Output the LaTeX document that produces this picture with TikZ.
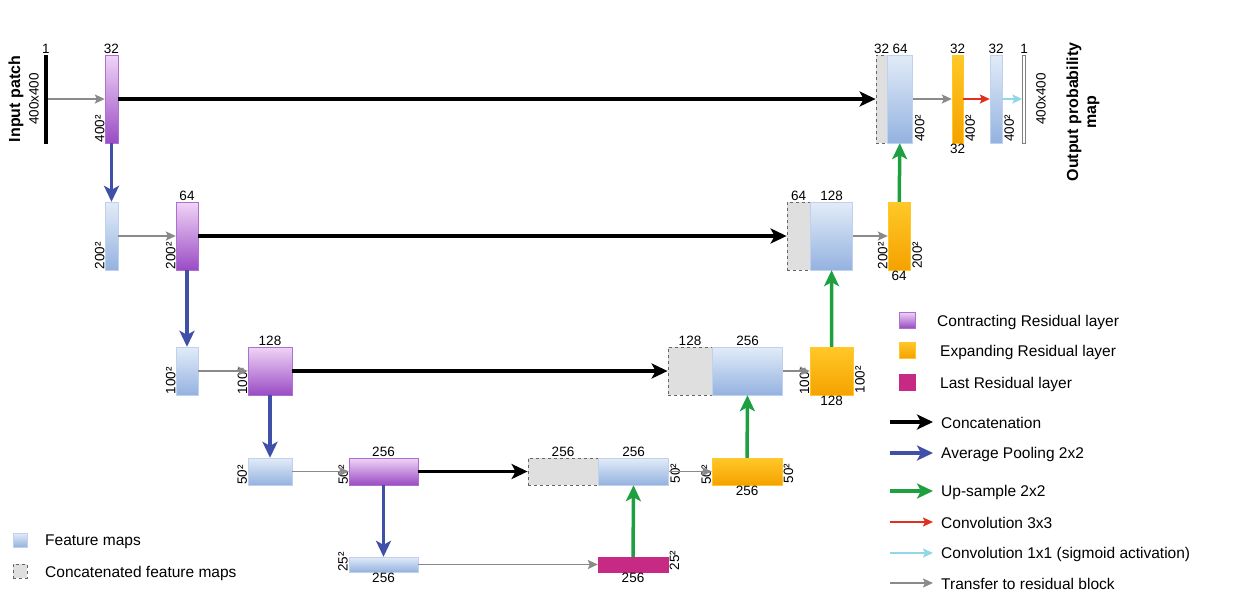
\documentclass[tikz,border=0pt]{standalone}
\usepackage{fontspec}
\setmainfont{Liberation Sans}
\usetikzlibrary{arrows.meta,positioning}
\definecolor{poolc}{HTML}{4050A8}
\definecolor{upc}{HTML}{1FA040}
\definecolor{convc}{HTML}{E03020}
\definecolor{sigc}{HTML}{90D8E8}
\definecolor{xferc}{HTML}{8A8A8A}
\definecolor{ftop}{HTML}{E2ECF8}
\definecolor{fbot}{HTML}{94B2E0}
\definecolor{ctop}{HTML}{F0D4F6}
\definecolor{cbot}{HTML}{9A4CC4}
\definecolor{etop}{HTML}{FFC828}
\definecolor{ebot}{HTML}{F5A200}
\tikzset{
  num/.style={font=\fontsize{13.5}{14}\selectfont, inner sep=1pt},
  box/.style={draw, inner sep=0pt, minimum width=#1},
  fmap/.style={box=#1, draw=fbot!60, top color=ftop, bottom color=fbot},
  cres/.style={box=#1, draw=cbot!80, top color=ctop, bottom color=cbot},
  eres/.style={box=#1, draw=etop, top color=etop, bottom color=ebot},
  lres/.style={box=#1, draw=magenta!80!black, fill=magenta!80!black},
  cmap/.style={box=#1, draw=gray!80!black, dashed, thick, fill=gray!25},
  h1/.style={minimum height=88pt}, h2/.style={minimum height=68pt},
  h3/.style={minimum height=48pt}, h4/.style={minimum height=27pt},
  h5/.style={minimum height=15pt},
  lt/.style={label={[num,rotate=90,anchor=south west,label distance=1pt]south west:#1}},
  rt/.style={label={[num,rotate=90,anchor=north west,label distance=1pt]south east:#1}},
  up/.style={label={[num]above:#1}},
  dn/.style={label={[num]below:#1}},
  concat/.style={-{Stealth[length=16pt,width=15pt,inset=4pt]}, line width=3.5pt},
  pool/.style={-{Stealth[length=16pt,width=15pt,inset=4pt]}, line width=3.5pt, poolc},
  upsm/.style={-{Stealth[length=16pt,width=15pt,inset=4pt]}, line width=3.5pt, upc},
  xfer/.style={-{Stealth[length=10pt,width=9pt,inset=2pt]}, line width=1.8pt, xferc},
  conv/.style={-{Stealth[length=10pt,width=9pt,inset=2pt]}, line width=1.8pt, convc},
  sig/.style={-{Stealth[length=10pt,width=9pt,inset=2pt]}, line width=1.8pt, sigc},
  legtxt/.style={anchor=west, font=\fontsize{15.5}{16}\selectfont, inner sep=0pt},
}
\begin{document}
\begin{tikzpicture}[x=1pt,y=-1pt]
  \useasboundingbox (0,0) rectangle (1246,606);
  % level 1
  \node[box=3pt, fill=black, h1, up=1] (inp) at (46,99) {};
  \node[rotate=90, font=\bfseries\fontsize{16}{17}\selectfont] (inptxt) at (16,99) {Input patch};
  \node[num, rotate=90] (inpsz) at (34,99) {400x400};
  \node[cres=13pt, h1, up=32, lt=400²] (c1) at (111.5,99) {};
  \node[cmap=11pt, h1, up=32] (k1) at (881.5,99) {};
  \node[fmap=25pt, h1, up=64, rt=400², right=0pt of k1] (f1) {};
  \node[eres=11pt, h1, up=32, dn=32, rt=400²] (e1) at (957.5,99) {};
  \node[fmap=12pt, h1, up=32, rt=400²] (g1) at (996,99) {};
  \node[box=3pt, draw=gray, fill=white, h1, up=1] (outp) at (1024,99) {};
  \node[num, rotate=90] (outsz) at (1041,99) {400x400};
  \node[rotate=90, align=center, font=\bfseries\fontsize{16}{18}\selectfont] (outtxt) at (1083,112) {Output probability\\map};
  % level 2
  \node[fmap=13pt, h2, lt=200²] (b2) at (111.5,236) {};
  \node[cres=22pt, h2, up=64, lt=200²] (c2) at (187,236) {};
  \node[cmap=23pt, h2, up=64] (k2) at (798.5,236) {};
  \node[fmap=42pt, h2, up=128, right=0pt of k2] (f2) {};
  \node[eres=22pt, h2, lt=200², rt=200², dn=64] (e2) at (899,236) {};
  % level 3
  \node[fmap=22pt, h3, lt=100²] (b3) at (187,371) {};
  \node[cres=44pt, h3, up=128, lt=100²] (c3) at (270,371) {};
  \node[cmap=44pt, h3, up=128] (k3) at (690,371) {};
  \node[fmap=70pt, h3, up=256, right=0pt of k3] (f3) {};
  \node[eres=43pt, h3, lt=100², rt=100², dn=128] (e3) at (831.5,371) {};
  % level 4
  \node[fmap=44pt, h4, lt=50²] (b4) at (270,471.5) {};
  \node[cres=69pt, h4, up=256, lt=50²] (c4) at (383.5,471.5) {};
  \node[cmap=70pt, h4, up=256] (k4) at (563,471.5) {};
  \node[fmap=70pt, h4, up=256, rt=50², right=0pt of k4] (f4) {};
  \node[eres=70pt, h4, lt=50², rt=50², dn=256] (e4) at (747,471.5) {};
  % level 5
  \node[fmap=69pt, h5, lt=25², dn=256] (b5) at (383.5,564.5) {};
  \node[lres=70pt, h5, rt=25², dn=256] (l5) at (633,564.5) {};
  % connectors
  \draw[xfer] (inp) -- (c1);
  \draw[concat] (c1) -- (k1);
  \draw[xfer] (f1) -- (e1);
  \draw[conv] (e1) -- (g1);
  \draw[sig] (g1) -- (outp);
  \draw[xfer] (b2) -- (c2);
  \draw[concat] (c2) -- (k2);
  \draw[xfer] (f2) -- (e2);
  \draw[xfer] (b3) -- (c3);
  \draw[concat] (c3) -- (k3);
  \draw[xfer] (f3) -- (e3);
  \draw[xfer] (b4) -- (c4);
  \draw[concat] (c4) -- (k4);
  \draw[xfer] (f4) -- (e4);
  \draw[xfer] (b5) -- (l5);
  \draw[pool] (c1) -- (b2);
  \draw[pool] (c2) -- (b3);
  \draw[pool] (c3) -- (b4);
  \draw[pool] (c4) -- (b5);
  \draw[upsm] (e2) -- (f1);
  \draw[upsm] (e3) -- (f2);
  \draw[upsm] (e4) -- (f3);
  \draw[upsm] (l5) -- (f4);
  % legend
  \node[fmap=14pt, minimum height=14pt] (lg1) at (20,540) {};
  \node[legtxt] (lt1) at (45,542) {Feature maps};
  \node[cmap=14pt, minimum height=14pt] (lg2) at (20,571) {};
  \node[legtxt] (lt2) at (45,573) {Concatenated feature maps};
  \node[cres=16pt, minimum height=16pt] (lg3) at (907,320) {};
  \node[legtxt] (lt3) at (937,322) {Contracting Residual layer};
  \node[eres=16pt, minimum height=16pt] (lg4) at (907,350) {};
  \node[legtxt] (lt4) at (940,352) {Expanding Residual layer};
  \node[lres=16pt, minimum height=16pt] (lg5) at (907,382) {};
  \node[legtxt] (lt5) at (940,384) {Last Residual layer};
  \foreach \y/\s/\t [count=\i] in {422/concat/Concatenation, 453/pool/Average Pooling 2x2,
      491/upsm/Up-sample 2x2, 522/conv/Convolution 3x3,
      553/sig/Convolution 1x1 (sigmoid activation), 583/xfer/Transfer to residual block}{
    \coordinate (la\i) at (890,\y);
    \coordinate (lb\i) at (933,\y);
    \draw[\s] (la\i) -- (lb\i);
    \node[legtxt] (ltx\i) at (941,\y+1) {\t};
  }
\end{tikzpicture}
\end{document}
